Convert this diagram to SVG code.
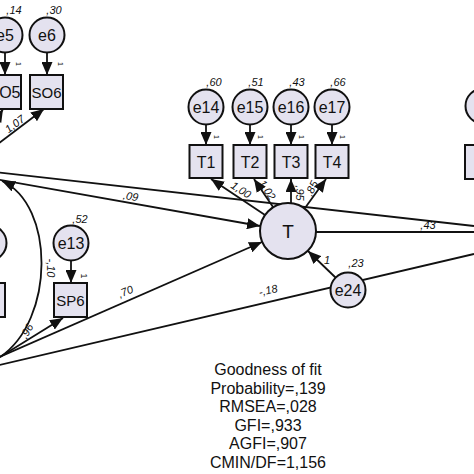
<svg xmlns="http://www.w3.org/2000/svg" width="474" height="474" viewBox="0 0 474 474">
<style>
.n{fill:#e4e2ef;stroke:#111;stroke-width:2}
.c{fill:none;stroke:#111;stroke-width:1.8}
.t{font-family:"Liberation Sans",Arial,sans-serif;fill:#111;text-anchor:middle}
.nl{font-size:16px}
.lb{font-size:11px;font-style:italic}
.one{font-size:7px}
.gf{font-size:16px}
</style>
<defs>
<marker id="ah" markerUnits="userSpaceOnUse" markerWidth="13" markerHeight="11" refX="13" refY="5.5" orient="auto-start-reverse">
<path d="M0,0 L13,5.5 L0,11 z" fill="#111"/>
</marker>
</defs>
<rect width="474" height="474" fill="#fff"/>
<g id="connectors">
<path class="c" d="M5,53 L5,75" marker-end="url(#ah)"/>
<path class="c" d="M47,53 L47,75" marker-end="url(#ah)"/>
<path class="c" d="M-15,140 L3,109" marker-end="url(#ah)"/>
<path class="c" d="M-10,150 L44,109" marker-end="url(#ah)"/>
<path class="c" d="M71,261 L71,283" marker-end="url(#ah)"/>
<path class="c" d="M0,357 L63,318" marker-end="url(#ah)"/>
<path class="c" d="M206,124 L206,145" marker-end="url(#ah)"/>
<path class="c" d="M250,124 L250,145" marker-end="url(#ah)"/>
<path class="c" d="M291,124 L291,145" marker-end="url(#ah)"/>
<path class="c" d="M332,124 L332,145" marker-end="url(#ah)"/>
<path class="c" d="M265,215 L211,179" marker-end="url(#ah)"/>
<path class="c" d="M273,207 L254,179" marker-end="url(#ah)"/>
<path class="c" d="M291,203 L291,179" marker-end="url(#ah)"/>
<path class="c" d="M305,208 L326,179" marker-end="url(#ah)"/>
<path class="c" d="M-5,179 L260,226" marker-end="url(#ah)"/>
<path class="c" d="M-5,359 L262,242" marker-end="url(#ah)"/>
<path class="c" d="M-5,172 L474,226"/>
<path class="c" d="M316,232 L474,232"/>
<path class="c" d="M-5,366 L474,254"/>
<path class="c" d="M336,278 L308,251" marker-end="url(#ah)"/>
<path class="c" d="M2,181 C55,205 55,320 0,357" marker-start="url(#ah)"/>
</g>
<g id="e5"><circle class="n" cx="5" cy="35" r="17.5"/><text class="t nl" x="5" y="41">e5</text></g>
<g id="e6"><circle class="n" cx="47" cy="35" r="17.5"/><text class="t nl" x="47" y="41">e6</text></g>
<g id="SO5"><rect class="n" x="-12" y="75" width="33" height="34"/><text class="t nl" x="4.5" y="98">SO5</text></g>
<g id="SO6"><rect class="n" x="30" y="75" width="33" height="34"/><text class="t nl" style="font-size:15px" x="46.5" y="97.5">SO6</text></g>
<g id="eLeft"><circle class="n" cx="-11" cy="243" r="17.5"/></g>
<g id="boxLeft"><rect class="n" x="-28" y="283" width="33" height="34"/></g>
<g id="e13"><circle class="n" cx="71" cy="243" r="17.5"/><text class="t nl" x="71" y="249">e13</text></g>
<g id="SP6"><rect class="n" x="54" y="283" width="33" height="34"/><text class="t nl" style="font-size:15px" x="70.5" y="305.5">SP6</text></g>
<g id="e14"><circle class="n" cx="206" cy="107" r="17.5"/><text class="t nl" x="206" y="113">e14</text></g>
<g id="e15"><circle class="n" cx="250" cy="107" r="17.5"/><text class="t nl" x="250" y="113">e15</text></g>
<g id="e16"><circle class="n" cx="291" cy="107" r="17.5"/><text class="t nl" x="291" y="113">e16</text></g>
<g id="e17"><circle class="n" cx="332" cy="107" r="17.5"/><text class="t nl" x="332" y="113">e17</text></g>
<g id="T1"><rect class="n" x="189.5" y="145" width="33" height="33"/><text class="t nl" x="206" y="167.5">T1</text></g>
<g id="T2"><rect class="n" x="233.5" y="145" width="33" height="33"/><text class="t nl" x="250" y="167.5">T2</text></g>
<g id="T3"><rect class="n" x="274.5" y="145" width="33" height="33"/><text class="t nl" x="291" y="167.5">T3</text></g>
<g id="T4"><rect class="n" x="315.5" y="145" width="33" height="33"/><text class="t nl" x="332" y="167.5">T4</text></g>
<g id="T"><circle class="n" cx="288" cy="231" r="28"/><text class="t" style="font-size:19px" x="288" y="238">T</text></g>
<g id="e24"><circle class="n" cx="348" cy="290" r="17.5"/><text class="t nl" x="348" y="296">e24</text></g>
<g id="eRight"><circle class="n" cx="483" cy="106" r="17.5"/></g>
<g id="boxRight"><rect class="n" x="465" y="145" width="35" height="34"/></g>
<g id="labels">
<text class="t lb" x="14" y="14">,14</text>
<text class="t lb" x="54" y="14">,30</text>
<text class="t one" transform="translate(16,64) rotate(90)">1</text>
<text class="t one" transform="translate(58,64) rotate(90)">1</text>
<text class="t lb" transform="translate(17,127) rotate(-37)">1,07</text>
<text class="t lb" x="80" y="223">,52</text>
<text class="t lb" transform="translate(47,268) rotate(90)">-,10</text>
<text class="t" style="font-size:9px" transform="translate(81,276) rotate(90)">1</text>
<text class="t lb" transform="translate(30,333) rotate(-60)">,96</text>
<text class="t lb" x="214" y="86">,60</text>
<text class="t lb" x="256" y="86">,51</text>
<text class="t lb" x="297" y="86">,43</text>
<text class="t lb" x="338" y="86">,66</text>
<text class="t one" transform="translate(214,137) rotate(90)">1</text>
<text class="t one" transform="translate(258,137) rotate(90)">1</text>
<text class="t one" transform="translate(299,137) rotate(90)">1</text>
<text class="t one" transform="translate(340,137) rotate(90)">1</text>
<text class="t lb" transform="translate(239,193) rotate(33)">1,00</text>
<text class="t lb" transform="translate(264,192) rotate(57)">1,02</text>
<text class="t lb" transform="translate(296,193) rotate(90)">,95</text>
<text class="t lb" transform="translate(315,190) rotate(-65)">,85</text>
<text class="t lb" transform="translate(130,200) rotate(10)">,09</text>
<text class="t lb" transform="translate(127,295) rotate(-23)">,70</text>
<text class="t lb" transform="translate(269,294) rotate(-13)">-,18</text>
<text class="t lb" x="428" y="229">,43</text>
<text class="t lb" x="356" y="267">,23</text>
<text class="t lb" x="327" y="264">1</text>
</g>
<g id="fit">
<text class="t gf" x="268" y="375">Goodness of fit</text>
<text class="t gf" x="268" y="393.5">Probability=,139</text>
<text class="t gf" x="268" y="412">RMSEA=,028</text>
<text class="t gf" x="268" y="430.5">GFI=,933</text>
<text class="t gf" x="268" y="449">AGFI=,907</text>
<text class="t gf" x="268" y="467.5">CMIN/DF=1,156</text>
</g>
</svg>
